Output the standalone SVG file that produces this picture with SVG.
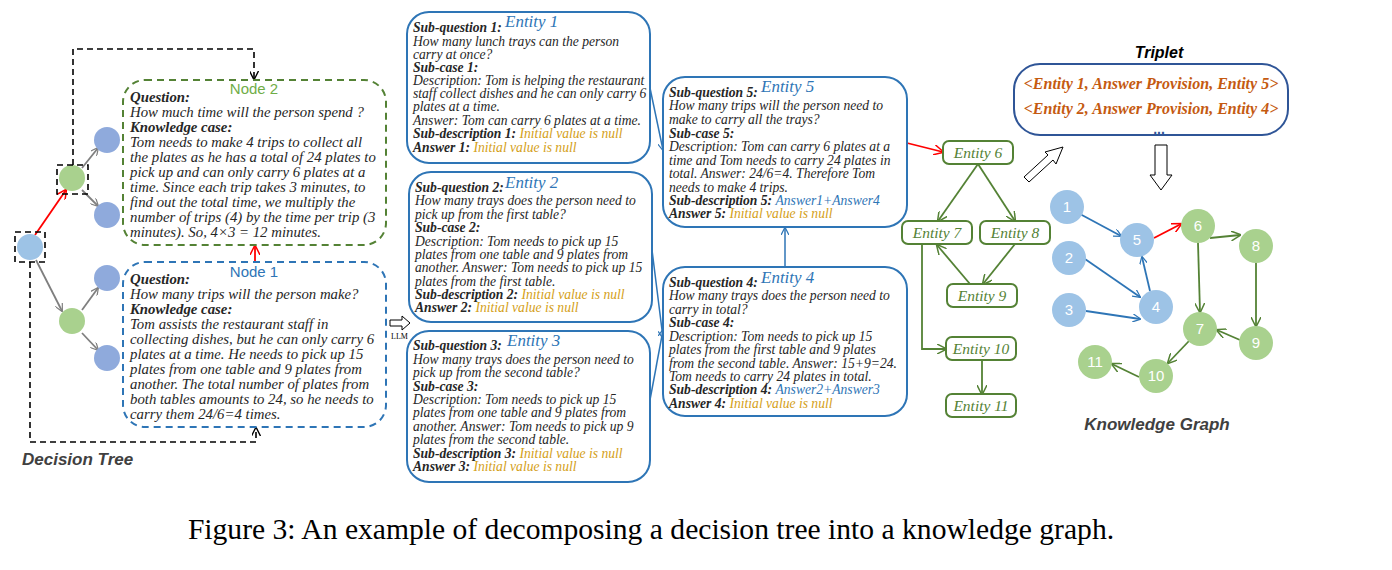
<svg xmlns="http://www.w3.org/2000/svg" width="1392" height="570" viewBox="0 0 1392 570">
<defs>
<marker id="ab" viewBox="0 0 10 10" refX="9" refY="5" markerWidth="8" markerHeight="8" orient="auto" markerUnits="userSpaceOnUse"><path d="M0,0 L10,5 L0,10" fill="none" stroke="#2e75b6" stroke-width="1.5"/></marker>
<marker id="ag" viewBox="0 0 10 10" refX="9" refY="5" markerWidth="10" markerHeight="10" orient="auto" markerUnits="userSpaceOnUse"><path d="M0,0 L10,5 L0,10" fill="none" stroke="#548235" stroke-width="1.5"/></marker>
<marker id="ar" viewBox="0 0 10 10" refX="9" refY="5" markerWidth="10" markerHeight="10" orient="auto" markerUnits="userSpaceOnUse"><path d="M0,0 L10,5 L0,10" fill="none" stroke="#ff0000" stroke-width="1.5"/></marker>
<marker id="ak" viewBox="0 0 10 10" refX="9" refY="5" markerWidth="9" markerHeight="9" orient="auto" markerUnits="userSpaceOnUse"><path d="M0,0 L10,5 L0,10" fill="none" stroke="#000" stroke-width="1.5"/></marker>
<marker id="ay" viewBox="0 0 10 10" refX="9" refY="5" markerWidth="8" markerHeight="8" orient="auto" markerUnits="userSpaceOnUse"><path d="M0,0 L10,5 L0,10" fill="none" stroke="#7f7f7f" stroke-width="1.5"/></marker>
</defs>
<style>
.t{font-family:"Liberation Serif",serif;font-style:italic;font-size:13.6px;fill:#262626}
.tn{font-size:14.8px}
.b{font-weight:bold}
.y{fill:#d4a017}
.bl{fill:#2e75b6}
.et{font-family:"Liberation Serif",serif;font-style:italic;font-size:17px;fill:#2e75b6}
.eb{fill:#fff;stroke:#2e75b6;stroke-width:2}
.gb{fill:#fff;stroke:#548235;stroke-width:2}
.gt{font-family:"Liberation Serif",serif;font-style:italic;font-size:15.5px;fill:#548235;text-anchor:middle}
.ttl{font-family:"Liberation Sans",sans-serif;font-style:italic;font-weight:bold;font-size:17px;fill:#404040}
.cb{fill:#9dc3e6}.cg{fill:#a9d18e}.cd{fill:#8faadc}
.n{font-family:"Liberation Sans",sans-serif;font-size:15px;fill:#fff;text-anchor:middle}
.kb{stroke:#2e75b6;stroke-width:1.8;fill:none}
.kg{stroke:#548235;stroke-width:1.8;fill:none}
.dk{stroke:#000;stroke-width:1.6;fill:none;stroke-dasharray:6,4}
</style>
<g id="connectors">
<path class="dk" d="M73,165 V49 H254 V79" marker-end="url(#ak)"/>
<path class="dk" d="M30,262 V442 H256 V428" marker-end="url(#ak)"/>
<line x1="35" y1="235" x2="66" y2="190" stroke="#ff0000" stroke-width="1.8" marker-end="url(#ar)"/>
<line x1="36" y1="260" x2="62" y2="311" stroke="#7f7f7f" stroke-width="1.8" marker-end="url(#ay)"/>
<line x1="82" y1="168" x2="98" y2="148" stroke="#7f7f7f" stroke-width="1.8" marker-end="url(#ay)"/>
<line x1="82" y1="190" x2="98" y2="206" stroke="#7f7f7f" stroke-width="1.8" marker-end="url(#ay)"/>
<line x1="82" y1="310" x2="98" y2="288" stroke="#7f7f7f" stroke-width="1.8" marker-end="url(#ay)"/>
<line x1="82" y1="333" x2="98" y2="350" stroke="#7f7f7f" stroke-width="1.8" marker-end="url(#ay)"/>
<line x1="255" y1="262" x2="255" y2="246" stroke="#ff0000" stroke-width="1.8" marker-end="url(#ar)"/>
<path d="M390,320 H402 V316 L410,323 L402,330 V326 H390 Z" fill="#fff" stroke="#000" stroke-width="1"/>
<line x1="650" y1="88" x2="663" y2="150" stroke="#2e75b6" stroke-width="1.5" marker-end="url(#ab)"/>
<line x1="652" y1="250" x2="663" y2="338" stroke="#2e75b6" stroke-width="1.5" marker-end="url(#ab)"/>
<line x1="650" y1="400" x2="663" y2="330" stroke="#2e75b6" stroke-width="1.5" marker-end="url(#ab)"/>
<line x1="785" y1="267" x2="785" y2="228" stroke="#2e75b6" stroke-width="1.5" marker-end="url(#ab)"/>
<line x1="907" y1="143" x2="943" y2="152" stroke="#ff0000" stroke-width="1.8" marker-end="url(#ar)"/>
<line x1="978" y1="164" x2="938" y2="221" class="kg" marker-end="url(#ag)"/>
<line x1="978" y1="164" x2="1015" y2="221" class="kg" marker-end="url(#ag)"/>
<line x1="1015" y1="244" x2="983" y2="284" class="kg" marker-end="url(#ag)"/>
<line x1="970" y1="284" x2="937" y2="245" class="kg" marker-end="url(#ag)"/>
<path d="M922,244 V349 H946" class="kg" marker-end="url(#ag)"/>
<line x1="982" y1="360" x2="982" y2="394" class="kg" marker-end="url(#ag)"/>
<path d="M1024,177 L1048,155 L1045,152 L1063,147 L1056,164 L1053,160 L1029,182 Z" fill="#fff" stroke="#000" stroke-width="1"/>
<path d="M1155,145 H1167 V175 H1172 L1161,190 L1150,175 H1155 Z" fill="#fff" stroke="#000" stroke-width="1"/>
<line x1="1080" y1="214" x2="1121" y2="236" class="kb" marker-end="url(#ab)"/>
<line x1="1085" y1="259" x2="1140" y2="297" class="kb" marker-end="url(#ab)"/>
<line x1="1086" y1="311" x2="1140" y2="319" class="kb" marker-end="url(#ab)"/>
<line x1="1150" y1="291" x2="1142" y2="257" class="kb" marker-end="url(#ab)"/>
<line x1="1154" y1="238" x2="1181" y2="224" stroke="#ff0000" stroke-width="1.8" marker-end="url(#ar)"/>
<line x1="1210" y1="238" x2="1240" y2="235" class="kg" marker-end="url(#ag)"/>
<line x1="1198" y1="243" x2="1200" y2="312" class="kg" marker-end="url(#ag)"/>
<line x1="1256" y1="263" x2="1256" y2="326" class="kg" marker-end="url(#ag)"/>
<line x1="1240" y1="340" x2="1217" y2="330" class="kg" marker-end="url(#ag)"/>
<line x1="1189" y1="341" x2="1168" y2="363" class="kg" marker-end="url(#ag)"/>
<line x1="1139" y1="377" x2="1112" y2="364" class="kg" marker-end="url(#ag)"/>
</g>
<g id="tree">
<rect x="15" y="232" width="30" height="30" fill="none" class="dk" stroke-dasharray="4,3"/>
<circle cx="30" cy="247" r="13" class="cb"/>
<circle cx="72" cy="178" r="13" class="cg"/>
<rect x="57" y="165" width="31" height="29" fill="none" class="dk" stroke-dasharray="4,3"/>
<circle cx="107" cy="140" r="13" class="cd"/>
<circle cx="107" cy="215" r="13" class="cd"/>
<circle cx="72" cy="321" r="13" class="cg"/>
<circle cx="107" cy="278" r="13" class="cd"/>
<circle cx="107" cy="358" r="13" class="cd"/>
<text x="22" y="465" class="ttl">Decision Tree</text>
</g>
<g id="node2">
<rect x="123" y="80" width="263" height="165" rx="22" fill="none" stroke="#548235" stroke-width="2" stroke-dasharray="7,5"/>
<text x="254" y="94" font-family="Liberation Sans,sans-serif" font-size="15" fill="#70ad47" text-anchor="middle">Node 2</text>
<text class="t tn"><tspan x="130" y="102" class="b">Question:</tspan><tspan x="130" y="117">How much time will the person spend ?</tspan><tspan x="130" y="132" class="b">Knowledge case:</tspan><tspan x="130" y="147">Tom needs to make 4 trips to collect all</tspan><tspan x="130" y="162">the plates as he has a total of 24 plates to</tspan><tspan x="130" y="177">pick up and can only carry 6 plates at a</tspan><tspan x="130" y="192">time. Since each trip takes 3 minutes, to</tspan><tspan x="130" y="207">find out the total time, we multiply the</tspan><tspan x="130" y="222">number of trips (4) by the time per trip (3</tspan><tspan x="130" y="237">minutes). So, 4×3 = 12 minutes.</tspan></text>
</g>
<g id="node1">
<rect x="123" y="262" width="263" height="165" rx="22" fill="none" stroke="#2e75b6" stroke-width="2" stroke-dasharray="7,5"/>
<text x="254" y="277" font-family="Liberation Sans,sans-serif" font-size="15" fill="#2e75b6" text-anchor="middle">Node 1</text>
<text class="t tn"><tspan x="130" y="284" class="b">Question:</tspan><tspan x="130" y="299">How many trips will the person make?</tspan><tspan x="130" y="314" class="b">Knowledge case:</tspan><tspan x="130" y="329">Tom assists the restaurant staff in</tspan><tspan x="130" y="344">collecting dishes, but he can only carry 6</tspan><tspan x="130" y="359">plates at a time. He needs to pick up 15</tspan><tspan x="130" y="374">plates from one table and 9 plates from</tspan><tspan x="130" y="389">another. The total number of plates from</tspan><tspan x="130" y="404">both tables amounts to 24, so he needs to</tspan><tspan x="130" y="419">carry them 24/6=4 times.</tspan></text>
<text x="391" y="339" font-family="Liberation Serif,serif" font-size="8" fill="#000">LLM</text>
</g>
<g id="entity1">
<rect x="407" y="12" width="243" height="151" rx="22" class="eb"/>
<text x="505" y="27" class="et">Entity 1</text>
<text class="t"><tspan x="413" y="32" class="b">Sub-question 1:</tspan><tspan x="413" y="46">How many lunch trays can the person</tspan><tspan x="413" y="59">carry at once?</tspan><tspan x="413" y="72" class="b">Sub-case 1:</tspan><tspan x="413" y="85">Description: Tom is helping the restaurant</tspan><tspan x="413" y="98">staff collect dishes and he can only carry 6</tspan><tspan x="413" y="111">plates at a time.</tspan><tspan x="413" y="125">Answer: Tom can carry 6 plates at a time.</tspan><tspan x="413" y="138"><tspan class="b">Sub-description 1: </tspan><tspan class="y">Initial value is null</tspan></tspan><tspan x="413" y="152"><tspan class="b">Answer 1: </tspan><tspan class="y">Initial value is null</tspan></tspan></text>
</g>
<g id="entity2">
<rect x="409" y="172" width="243" height="150" rx="22" class="eb"/>
<text x="505" y="188" class="et">Entity 2</text>
<text class="t"><tspan x="415" y="192" class="b">Sub-question 2:</tspan><tspan x="415" y="205">How many trays does the person need to</tspan><tspan x="415" y="219">pick up from the first table?</tspan><tspan x="415" y="232" class="b">Sub-case 2:</tspan><tspan x="415" y="246">Description: Tom needs to pick up 15</tspan><tspan x="415" y="259">plates from one table and 9 plates from</tspan><tspan x="415" y="272">another. Answer: Tom needs to pick up 15</tspan><tspan x="415" y="286">plates from the first table.</tspan><tspan x="415" y="299"><tspan class="b">Sub-description 2: </tspan><tspan class="y">Initial value is null</tspan></tspan><tspan x="415" y="312"><tspan class="b">Answer 2: </tspan><tspan class="y">Initial value is null</tspan></tspan></text>
</g>
<g id="entity3">
<rect x="407" y="331" width="243" height="151" rx="22" class="eb"/>
<text x="507" y="346" class="et">Entity 3</text>
<text class="t"><tspan x="413" y="350" class="b">Sub-question 3:</tspan><tspan x="413" y="364">How many trays does the person need to</tspan><tspan x="413" y="377">pick up from the second table?</tspan><tspan x="413" y="391" class="b">Sub-case 3:</tspan><tspan x="413" y="404">Description: Tom needs to pick up 15</tspan><tspan x="413" y="417">plates from one table and 9 plates from</tspan><tspan x="413" y="431">another. Answer: Tom needs to pick up 9</tspan><tspan x="413" y="444">plates from the second table.</tspan><tspan x="413" y="458"><tspan class="b">Sub-description 3: </tspan><tspan class="y">Initial value is null</tspan></tspan><tspan x="413" y="471"><tspan class="b">Answer 3: </tspan><tspan class="y">Initial value is null</tspan></tspan></text>
</g>
<g id="entity5">
<rect x="663" y="77" width="244" height="150" rx="22" class="eb"/>
<text x="761" y="92" class="et">Entity 5</text>
<text class="t"><tspan x="669" y="97" class="b">Sub-question 5:</tspan><tspan x="669" y="110">How many trips will the person need to</tspan><tspan x="669" y="124">make to carry all the trays?</tspan><tspan x="669" y="138" class="b">Sub-case 5:</tspan><tspan x="669" y="151">Description: Tom can carry 6 plates at a</tspan><tspan x="669" y="165">time and Tom needs to carry 24 plates in</tspan><tspan x="669" y="178">total. Answer: 24/6=4. Therefore Tom</tspan><tspan x="669" y="192">needs to make 4 trips.</tspan><tspan x="669" y="205"><tspan class="b">Sub-description 5: </tspan><tspan class="bl">Answer1+Answer4</tspan></tspan><tspan x="669" y="218"><tspan class="b">Answer 5: </tspan><tspan class="y">Initial value is null</tspan></tspan></text>
</g>
<g id="entity4">
<rect x="663" y="267" width="244" height="149" rx="22" class="eb"/>
<text x="761" y="283" class="et">Entity 4</text>
<text class="t"><tspan x="669" y="287" class="b">Sub-question 4:</tspan><tspan x="669" y="300">How many trays does the person need to</tspan><tspan x="669" y="314">carry in total?</tspan><tspan x="669" y="327" class="b">Sub-case 4:</tspan><tspan x="669" y="341">Description: Tom needs to pick up 15</tspan><tspan x="669" y="354">plates from the first table and 9 plates</tspan><tspan x="669" y="368">from the second table. Answer: 15+9=24.</tspan><tspan x="669" y="381">Tom needs to carry 24 plates in total.</tspan><tspan x="669" y="394"><tspan class="b">Sub-description 4: </tspan><tspan class="bl">Answer2+Answer3</tspan></tspan><tspan x="669" y="408"><tspan class="b">Answer 4: </tspan><tspan class="y">Initial value is null</tspan></tspan></text>
</g>
<g id="e6"><rect x="943" y="141" width="70" height="23" rx="6" class="gb"/><text x="978" y="158" class="gt">Entity 6</text></g>
<g id="e7"><rect x="902" y="221" width="70" height="23" rx="6" class="gb"/><text x="937" y="238" class="gt">Entity 7</text></g>
<g id="e8"><rect x="980" y="221" width="70" height="23" rx="6" class="gb"/><text x="1015" y="238" class="gt">Entity 8</text></g>
<g id="e9"><rect x="947" y="284" width="70" height="23" rx="6" class="gb"/><text x="982" y="301" class="gt">Entity 9</text></g>
<g id="e10"><rect x="946" y="337" width="70" height="23" rx="6" class="gb"/><text x="981" y="354" class="gt">Entity 10</text></g>
<g id="e11"><rect x="946" y="394" width="70" height="23" rx="6" class="gb"/><text x="981" y="411" class="gt">Entity 11</text></g>
<g id="triplet">
<text x="1159" y="58" text-anchor="middle" font-family="Liberation Sans,sans-serif" font-style="italic" font-weight="bold" font-size="16" fill="#000">Triplet</text>
<rect x="1014" y="64" width="274" height="71" rx="26" fill="#fff" stroke="#2f5597" stroke-width="2"/>
<text x="1151" y="89" text-anchor="middle" font-family="Liberation Serif,serif" font-style="italic" font-weight="bold" font-size="16" fill="#c55a11">&lt;Entity 1, Answer Provision, Entity 5&gt;</text>
<text x="1151" y="114" text-anchor="middle" font-family="Liberation Serif,serif" font-style="italic" font-weight="bold" font-size="16" fill="#c55a11">&lt;Entity 2, Answer Provision, Entity 4&gt;</text>
<text x="1159" y="134" text-anchor="middle" font-family="Liberation Sans,sans-serif" font-weight="bold" font-size="14" fill="#2f5597">...</text>
</g>
<g id="kg">
<g id="k1"><circle cx="1067" cy="207" r="17" class="cb"/><text x="1067" y="212" class="n">1</text></g>
<g id="k2"><circle cx="1069" cy="258" r="17" class="cb"/><text x="1069" y="263" class="n">2</text></g>
<g id="k3"><circle cx="1069" cy="310" r="17" class="cb"/><text x="1069" y="315" class="n">3</text></g>
<g id="k5"><circle cx="1137" cy="240" r="17" class="cb"/><text x="1137" y="245" class="n">5</text></g>
<g id="k4"><circle cx="1156" cy="307" r="17" class="cb"/><text x="1156" y="312" class="n">4</text></g>
<g id="k6"><circle cx="1198" cy="226" r="17" class="cg"/><text x="1198" y="231" class="n">6</text></g>
<g id="k8"><circle cx="1256" cy="246" r="17" class="cg"/><text x="1256" y="251" class="n">8</text></g>
<g id="k7"><circle cx="1200" cy="329" r="17" class="cg"/><text x="1200" y="334" class="n">7</text></g>
<g id="k9"><circle cx="1256" cy="343" r="17" class="cg"/><text x="1256" y="348" class="n">9</text></g>
<g id="k11"><circle cx="1095" cy="362" r="17" class="cg"/><text x="1095" y="367" class="n">11</text></g>
<g id="k10"><circle cx="1156" cy="376" r="17" class="cg"/><text x="1156" y="381" class="n">10</text></g>
<text x="1157" y="430" text-anchor="middle" class="ttl">Knowledge Graph</text>
</g>
<text x="651" y="539" text-anchor="middle" font-family="Liberation Serif,serif" font-size="29.6" fill="#000">Figure 3: An example of decomposing a decision tree into a knowledge graph.</text>
</svg>
